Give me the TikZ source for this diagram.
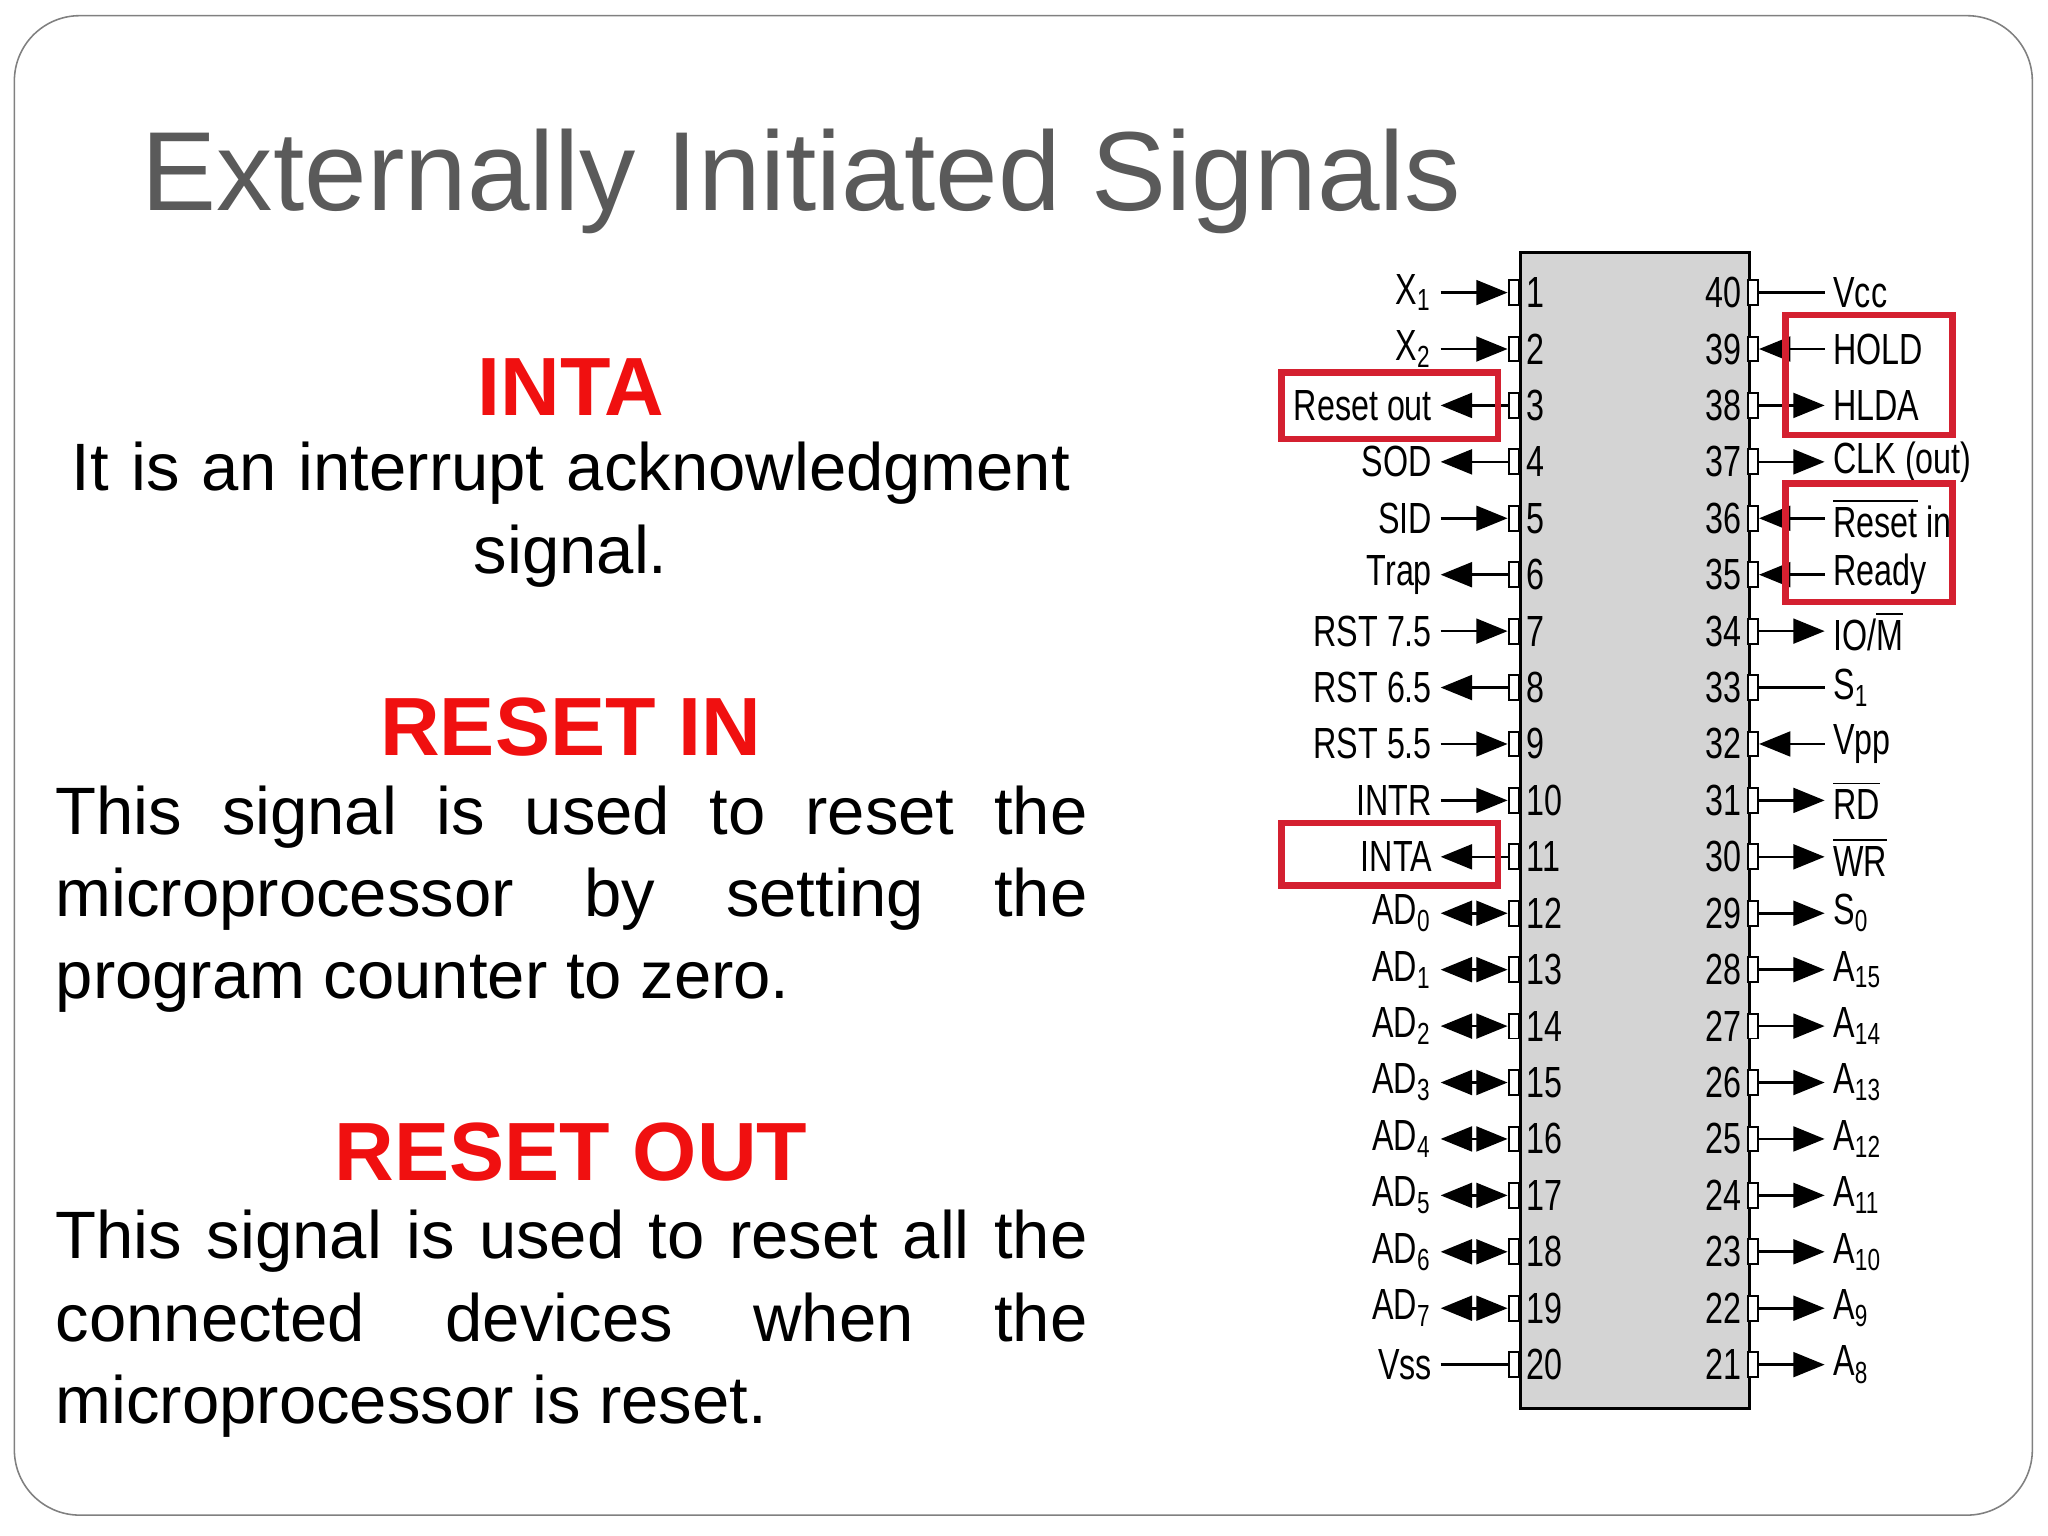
\documentclass[tikz,border=0pt]{standalone}
\usepackage{fontspec}
\setmainfont{Liberation Sans}
\newfontfamily\narrowfont[FakeStretch=0.74]{Liberation Sans}
\usetikzlibrary{arrows.meta}
\newcommand\ovl[1]{$\overline{\hbox{#1}}$}
\definecolor{hred}{HTML}{F01010}
\definecolor{bred}{HTML}{D42030}
\definecolor{tgray}{HTML}{5A5A5A}
\hyphenpenalty=10000 \exhyphenpenalty=10000
\begin{document}
\begin{tikzpicture}[x=0.1mm,y=-0.1mm,
  pinbox/.style={draw,line width=0.15mm,fill=white,minimum width=0.8mm,minimum height=1.9mm,inner sep=0},
  pinnum/.style={font=\narrowfont\fontsize{9.5}{10}\selectfont,inner sep=0.2mm},
  lbl/.style={font=\narrowfont\fontsize{9.5}{10}\selectfont,inner sep=0.6mm},
  wire/.style={line width=0.2mm},
  tin/.style={wire,-{Triangle[length=2.4mm,width=1.9mm]}},
  tout/.style={wire,{Triangle[length=2.4mm,width=1.9mm]}-},
  tbi/.style={wire,{Triangle[length=2.4mm,width=1.9mm]}-{Triangle[length=2.4mm,width=1.9mm]}},
  tno/.style={wire},
  rbox/.style={draw=bred,line width=0.5mm},
  head/.style={font=\bfseries\fontsize{18}{20}\selectfont,text=hred},
  body/.style={font=\fontsize{14.6}{17.9}\selectfont,text width=79mm,inner sep=0}]
\useasboundingbox (0,0) rectangle (1568,1176);
\draw[gray,line width=0.12mm,rounded corners=5mm] (11,12) rectangle (1556,1160);
\node[anchor=west,text=tgray,font=\fontsize{24.5}{28}\selectfont,inner sep=0] (title) at (108,139) {Externally Initiated Signals};
% left text
\node[head] (h1) at (437,296) {INTA};
\node[body,align=center,anchor=north,text width=92mm] (b1) at (437,338) {It is an interrupt acknowledgment\\ signal.};
\node[head] (h2) at (437,557) {RESET IN};
\node[body,align=justify,anchor=north west] (b2) at (42,601) {This signal is used to reset the\linebreak microprocessor by setting the\linebreak program counter to zero.};
\node[head] (h3) at (437,882) {RESET OUT};
\node[body,align=justify,anchor=north west] (b3) at (42,926) {This signal is used to reset all the\linebreak connected devices when the\linebreak microprocessor is reset.};
% chip
\node[draw,line width=0.25mm,fill=black!17,minimum width=17.5mm,minimum height=88.5mm,inner sep=0,anchor=north west] (chip) at (1163,192) {};
\foreach \n/\t/\k in {1/{X\textsubscript{1}}/tin,2/{X\textsubscript{2}}/tin,3/{Reset out}/tout,4/SOD/tout,5/SID/tin,6/Trap/tout,7/{RST 7.5}/tin,8/{RST 6.5}/tout,9/{RST 5.5}/tin,10/INTR/tin,11/INTA/tout,12/{AD\textsubscript{0}}/tbi,13/{AD\textsubscript{1}}/tbi,14/{AD\textsubscript{2}}/tbi,15/{AD\textsubscript{3}}/tbi,16/{AD\textsubscript{4}}/tbi,17/{AD\textsubscript{5}}/tbi,18/{AD\textsubscript{6}}/tbi,19/{AD\textsubscript{7}}/tbi,20/Vss/tno}{
  \pgfmathsetmacro\yy{224+(\n-1)*43.2}
  \node[pinbox] (lp\n) at (1159,\yy) {};
  \node[pinnum,anchor=west] (ln\n) at (1166,\yy) {\n};
  \node[lbl,anchor=east] (ll\n) at (1103,\yy) {\t};
  \draw[\k] (ll\n.east) -- (lp\n.west);
}
\foreach \n/\t/\k in {40/Vcc/tno,39/HOLD/tout,38/HLDA/tin,37/{CLK (out)}/tin,36/{\ovl{Reset} in}/tout,35/Ready/tout,34/{IO/\ovl{M}}/tin,33/{S\textsubscript{1}}/tno,32/Vpp/tout,31/{\ovl{RD}}/tin,30/{\ovl{WR}}/tin,29/{S\textsubscript{0}}/tin,28/{A\textsubscript{15}}/tin,27/{A\textsubscript{14}}/tin,26/{A\textsubscript{13}}/tin,25/{A\textsubscript{12}}/tin,24/{A\textsubscript{11}}/tin,23/{A\textsubscript{10}}/tin,22/{A\textsubscript{9}}/tin,21/{A\textsubscript{8}}/tin}{
  \pgfmathsetmacro\yy{224+(40-\n)*43.2}
  \node[pinbox] (rp\n) at (1342,\yy) {};
  \node[pinnum,anchor=east] (rn\n) at (1336,\yy) {\n};
  \node[lbl,anchor=west] (rl\n) at (1397,\yy) {\t};
  \draw[\k] (rp\n.east) -- (rl\n.west);
}
% red boxes
\draw[rbox] (981,285) rectangle (1147,336);
\draw[rbox] (981,630) rectangle (1147,678);
\draw[rbox] (1367,241) rectangle (1495,333);
\draw[rbox] (1367,370) rectangle (1495,461);
\end{tikzpicture}
\end{document}
